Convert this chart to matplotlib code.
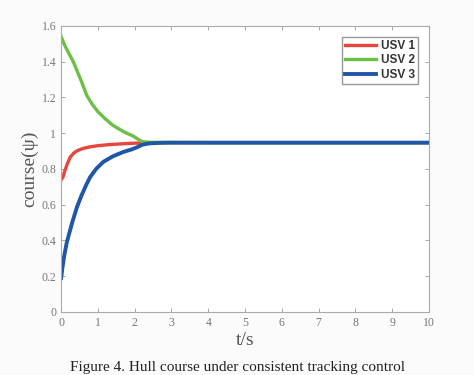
import numpy as np
import matplotlib.pyplot as plt

# values
t1 = [0, 0.05, 0.1, 0.17, 0.25, 0.35, 0.45, 0.6, 0.8, 1.0, 1.3, 1.7, 2.0, 2.3, 2.6, 3, 4, 6, 8, 10]
usv1 = [0.74, 0.755, 0.79, 0.83, 0.867, 0.89, 0.903, 0.915, 0.924, 0.93, 0.936, 0.941, 0.944, 0.946, 0.947,
        0.947, 0.947, 0.947, 0.947, 0.947]

t2 = [0, 0.1, 0.2, 0.33, 0.45, 0.55, 0.7, 0.85, 1.0, 1.2, 1.4, 1.6, 1.78, 1.95, 2.1, 2.2, 2.4, 3, 4, 6, 8, 10]
usv2 = [1.54, 1.49, 1.45, 1.40, 1.34, 1.29, 1.21, 1.16, 1.12, 1.08, 1.045, 1.02, 1.0, 0.985, 0.965, 0.953,
        0.949, 0.948, 0.947, 0.947, 0.947, 0.947]

t3 = [0, 0.03, 0.08, 0.15, 0.22, 0.3, 0.43, 0.55, 0.68, 0.79, 0.95, 1.15, 1.4, 1.69, 1.9, 2.05, 2.2, 2.4,
      2.7, 3, 4, 6, 8, 10]
usv3 = [0.19, 0.24, 0.31, 0.386, 0.44, 0.50, 0.587, 0.65, 0.71, 0.755, 0.80, 0.84, 0.87, 0.895, 0.908, 0.92,
        0.935, 0.943, 0.946, 0.947, 0.947, 0.947, 0.947, 0.947]

fig = plt.figure(figsize=(4.74, 3.75), dpi=100)
fig.patch.set_facecolor('#fbfbfb')
ax = fig.add_axes([0.129, 0.168, 0.776, 0.763])
ax.set_facecolor('white')

ax.plot(t1, usv1, color='#e8453c', lw=2.4, label='USV 1')
ax.plot(t2, usv2, color='#6cbf45', lw=2.4, label='USV 2')
ax.plot(t3, usv3, color='#1f56a8', lw=2.8, label='USV 3')

ax.set_xlim(0, 10)
ax.set_ylim(0, 1.6)
ax.set_xticks(range(0, 11))
ax.set_yticks([0, 0.2, 0.4, 0.6, 0.8, 1, 1.2, 1.4, 1.6])
ax.set_yticklabels(['0', '0.2', '0.4', '0.6', '0.8', '1', '1.2', '1.4', '1.6'])
ax.tick_params(direction='in', top=True, right=True, length=3, width=0.6,
               colors='#999999', labelcolor='#777777', labelsize=8.5)
for lbl in ax.get_xticklabels() + ax.get_yticklabels():
    lbl.set_family('Liberation Serif')
for s in ax.spines.values():
    s.set_color('#aaaaaa')
    s.set_linewidth(0.8)

ax.set_xlabel('t/s', family='Liberation Serif', fontsize=14, color='#555555', labelpad=2)
ax.set_ylabel('course(ψ)', family='Liberation Serif', fontsize=14, color='#555555', labelpad=2)

leg = ax.legend(loc='upper right', handlelength=2.6, borderaxespad=0.9,
                fancybox=False, framealpha=1, edgecolor='#999999',
                prop={'family': 'Liberation Sans', 'size': 8.5, 'weight': 'bold'},
                labelspacing=0.2, handletextpad=0.4, borderpad=0.3)
for txt in leg.get_texts():
    txt.set_color('#333333')

fig.text(0.5, 0.004, 'Figure 4. Hull course under consistent tracking control',
         ha='center', va='bottom', family='Liberation Serif', fontsize=11, color='#222222')

fig.savefig('out.png', dpi=100)
